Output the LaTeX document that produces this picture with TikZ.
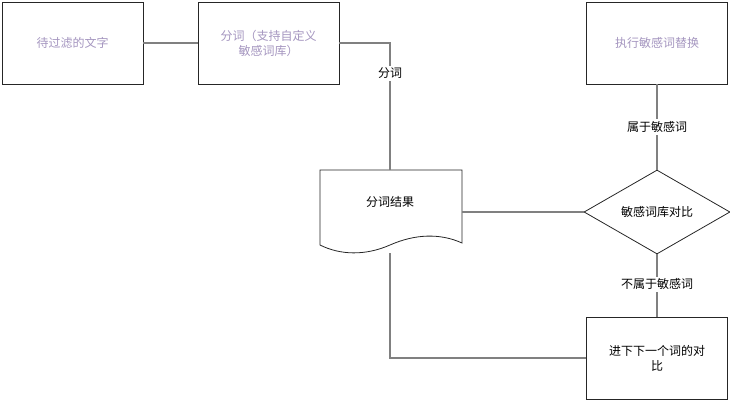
\documentclass[tikz,border=0pt]{standalone}
\usepackage{fontspec}
\setmainfont{Noto Sans CJK SC}
\usetikzlibrary{shapes.geometric}
\definecolor{titlepurple}{HTML}{A596C0}
\definecolor{linkgray}{HTML}{808080}
\begin{document}
\begin{tikzpicture}
        [x=1pt,y=-1pt,font=\fontsize{12}{15}\selectfont]
        \tikzset{
          stepbox/.style={draw=black!85,line width=0.8pt,minimum width=141pt,minimum height=82pt,align=center,fill=white},
          toptext/.style={text=titlepurple},
          link/.style={draw=linkgray,line width=1.1pt},
          linklabel/.style={fill=white,inner sep=2pt}
        }
        \useasboundingbox (0,0) rectangle (730,404);

        \node[stepbox,toptext] (raw) at (72.5,43) {待过滤的文字};
        \node[stepbox,toptext] (seg) at (268.5,43) {分词（支持自定义\\敏感词库）};
        \node[stepbox,toptext] (repl) at (657,43) {执行敏感词替换};
        \node[draw=black!85,line width=0.8pt,diamond,aspect=1.75,minimum width=146pt,minimum height=84pt,inner sep=0pt] (cmp) at (657,212) {敏感词库对比};
        \node[stepbox] (next) at (657,358) {进下下一个词的对\\比};

        % document shape with wavy bottom
        \draw[black!85,line width=0.8pt,fill=white] (320,170) -- (462,170) -- (462,243)
          .. controls (440,233) and (415,234) .. (390,245)
          .. controls (365,256) and (340,255) .. (320,245) -- cycle;
        \node (res) at (390,202) {分词结果};
        \coordinate (restop) at (390,170);
        \coordinate (resright) at (462,212);
        \coordinate (resbot) at (390,253);

        \draw[link] (raw.east) -- (seg.west);
        \draw[link] (seg.east) -| (restop) node[pos=0.62,linklabel] {分词};
        \draw[link] (resright) -- (cmp.west);
        \draw[link] (cmp.north) -- (repl.south) node[midway,linklabel] {属于敏感词};
        \draw[link] (cmp.south) -- (next.north) node[pos=0.48,linklabel] {不属于敏感词};
        \draw[link] (resbot) |- (next.west);
      \end{tikzpicture}
\end{document}
